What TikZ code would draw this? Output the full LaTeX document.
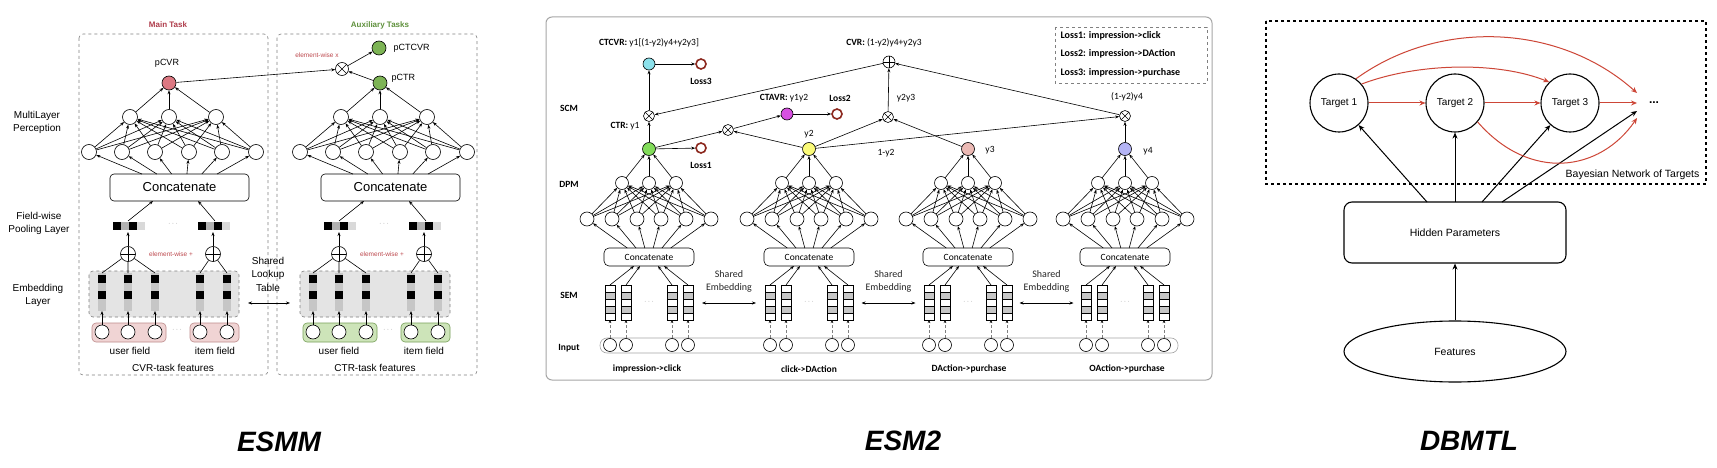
\documentclass[tikz,border=0pt]{standalone}
\usepackage{fontspec}
\setmainfont{Liberation Sans}
\newfontfamily\esmf{Carlito}
\usetikzlibrary{arrows.meta,shapes.geometric,calc}
\definecolor{redlab}{RGB}{190,75,80}
\definecolor{maint}{RGB}{175,60,75}
\definecolor{auxt}{RGB}{95,145,60}
\definecolor{pinkn}{RGB}{220,120,130}
\definecolor{greenn}{RGB}{125,180,85}
\definecolor{pinkbox}{RGB}{240,212,212}
\definecolor{pinkbd}{RGB}{190,140,140}
\definecolor{greenbox}{RGB}{205,228,185}
\definecolor{greenbd}{RGB}{120,160,90}
\definecolor{embgray}{RGB}{228,228,228}
\definecolor{cyann}{RGB}{140,225,235}
\definecolor{limen}{RGB}{130,220,90}
\definecolor{yelln}{RGB}{250,250,120}
\definecolor{rosen}{RGB}{235,185,180}
\definecolor{lavn}{RGB}{180,180,245}
\definecolor{magn}{RGB}{215,80,225}
\definecolor{lossc}{RGB}{140,40,30}
\definecolor{dbred}{RGB}{205,70,55}
\tikzset{
 neu/.style={circle,draw,fill=white,inner sep=0pt,minimum size=#1},
 ox/.style={circle,draw,fill=white,inner sep=0pt,minimum size=#1,path picture={\draw (path picture bounding box.north west)--(path picture bounding box.south east) (path picture bounding box.north east)--(path picture bounding box.south west);}},
 op/.style={circle,draw,fill=white,inner sep=0pt,minimum size=#1,path picture={\draw (path picture bounding box.north)--(path picture bounding box.south) (path picture bounding box.west)--(path picture bounding box.east);}},
 ar/.style={-{Stealth[length=4pt,width=3pt]}},
 loss/.style={circle,draw=lossc,fill=white,line width=1.6pt,minimum size=10pt,inner sep=0pt},
 sm/.style={font=\fontsize{#1}{#1}\selectfont},
 es/.style={font=\esmf\fontsize{#1}{#1}\selectfont},
 dba/.style={line width=1pt,-{Stealth[length=6pt,width=5pt]}},
 dbr/.style={dba,draw=dbred,-{Stealth[length=6pt,width=5pt,dbred]}},
}
\begin{document}
\begin{tikzpicture}[x=1pt,y=-1pt,line width=0.6pt]
\useasboundingbox (0,0) rectangle (1717,468);
\fill[white] (0,0) rectangle (1717,468);
%================ ESMM
\draw[dashed,gray,rounded corners=4] (79,34) rectangle (268,375);
\draw[dashed,gray,rounded corners=4] (277,34) rectangle (477,375);
\foreach \t/\dx/\fc/\bc/\oc in {L/0/pinkbox/pinkbd/pinkn, R/211/greenbox/greenbd/greenn}{
\begin{scope}[xshift=\dx pt]
 \draw[fill=\fc,draw=\bc,rounded corners=4] (92,323) rectangle (166,342);
 \draw[fill=\fc,draw=\bc,rounded corners=4] (190,323) rectangle (239,342);
 \node[sm=7,gray] at (177,330) {$\cdots$};
 \draw[dashed,gray,fill=embgray,rounded corners=4] (89,271) rectangle (239,317);
 \foreach \k/\cx in {1/102,2/128,3/155,4/200,5/227}{
   \fill[gray!45] (\cx-4,273) rectangle (\cx+4,311);
   \fill (\cx-4,275) rectangle (\cx+4,283);
   \fill (\cx-4,291) rectangle (\cx+4,299);
   \coordinate (e\t\k) at (\cx,273);
   \coordinate (eb\t\k) at (\cx,311);
   \node[neu=14pt] (i\t\k) at (\cx,332) {};
   \draw[ar] (i\t\k) -- (eb\t\k);
 }
 \node[op=15pt] (p\t1) at (128,254) {};
 \node[op=15pt] (p\t2) at (213,254) {};
 \draw (e\t1)--(p\t1) (e\t2)--(p\t1) (e\t3)--(p\t1) (e\t4)--(p\t2) (e\t5)--(p\t2);
 \foreach \gx in {113,198}{
   \fill (\gx,222) rectangle ++(8,8);
   \fill[gray!60] (\gx+8,222) rectangle ++(8,8);
   \fill (\gx+16,222) rectangle ++(8,8);
   \fill[gray!30] (\gx+24,222) rectangle ++(8,8);
 }
 \node[sm=7,gray] at (173,224) {$\cdots$};
 \coordinate (pb\t1) at (128,232); \coordinate (pb\t2) at (213,232);
 \draw[ar] (p\t1) -- (pb\t1); \draw[ar] (p\t2) -- (pb\t2);
 \node[draw,rounded corners=4,minimum width=139pt,minimum height=27pt,sm=13] (c\t) at (179.5,187.5) {Concatenate};
 \coordinate (pt\t1) at (128,221); \coordinate (pt\t2) at (215,221);
 \coordinate (cb\t1) at (153,201); \coordinate (cb\t2) at (198,201);
 \draw[ar] (pt\t1) -- (cb\t1); \draw[ar] (pt\t2) -- (cb\t2);
 \foreach \hx [count=\k] in {89,122,155,189,222,256}{
   \node[neu=15pt] (h\t\k) at (\hx,152) {};
   \coordinate (cs\t\k) at ({179.5+(\hx-172.5)*0.45},174);
   \draw[ar] (cs\t\k) -- (h\t\k);
 }
 \foreach \hx [count=\k] in {130,169,216}{
   \node[neu=15pt] (g\t\k) at (\hx,117) {};
 }
 \foreach \a in {1,...,6}{\foreach \b in {1,2,3}{\draw[ar] (h\t\a) -- (g\t\b);}}
 \node[neu=14pt,fill=\oc] (o\t) at (169,83) {};
 \foreach \b in {1,2,3}{\draw[ar] (g\t\b) -- (o\t);}
 \node[text=redlab,sm=6.5] at (171,254) {element-wise +};
\end{scope}
}
\node[sm=10] at (130,351) {user field};
\node[sm=10] at (215,351) {item field};
\node[sm=10] at (339,351) {user field};
\node[sm=10] at (424,351) {item field};
\node[sm=10] at (173,368) {CVR-task features};
\node[sm=10] at (375,368) {CTR-task features};
\node[sm=8,font=\bfseries\fontsize{8}{8}\selectfont,text=maint] at (168,25) {Main Task};
\node[font=\bfseries\fontsize{8}{8}\selectfont,text=auxt] at (380,25) {Auxiliary Tasks};
\node[sm=9] at (167,63) {pCVR};
\node[sm=9,anchor=west] at (388,78) {pCTR};
\node[sm=9,anchor=west] at (390,48) {pCTCVR};
\node[text=redlab,sm=6.5] at (317,55) {element-wise x};
\node[ox=13pt] (mx) at (342,69) {};
\node[neu=14pt,fill=greenn] (pctcvr) at (379,48) {};
\draw[ar] (oL) -- (mx); \draw[ar] (oR) -- (mx); \draw[ar] (mx) -- (pctcvr);
\node[sm=10,align=center,font=\fontsize{10}{13}\selectfont] at (37,122) {MultiLayer\\Perception};
\node[align=center,font=\fontsize{10}{13}\selectfont] at (39,223) {Field-wise\\Pooling Layer};
\node[align=center,font=\fontsize{10}{13}\selectfont] at (38,295) {Embedding\\Layer};
\node[align=center,font=\fontsize{10}{13.5}\selectfont] at (268,274) {Shared\\Lookup\\Table};
\coordinate (sl1) at (248,303); \coordinate (sl2) at (290,303);
\draw[{Stealth[length=4pt,width=3pt]}-{Stealth[length=4pt,width=3pt]}] (sl1) -- (sl2);
%================ ESM2
\draw[gray!70,line width=1pt,rounded corners=6] (546,17) rectangle (1212,380);
\draw[gray!70,rounded corners=7] (600,338) rectangle (1178,353);
\foreach \c/\i/\col in {649/1/limen,809/2/yelln,968/3/rosen,1125/4/lavn}{
 \node[neu=13pt,fill=\col] (y\i) at (\c,149) {};
 \foreach \o [count=\k] in {-27,0,27}{\node[neu=13pt] (u\i-\k) at (\c+\o,183) {};}
 \foreach \o [count=\k] in {-62,-37,-12,12,37,62}{
   \node[neu=14pt] (l\i-\k) at (\c+\o,219) {};
   \coordinate (ks\i-\k) at ({\c+\o*0.35},248);
 }
 \node[draw,rounded corners=5,minimum width=90pt,minimum height=18pt,es=9.5] (k\i) at (\c,257) {Concatenate};
 \foreach \k in {1,...,6}{\draw[ar] (ks\i-\k) -- (l\i-\k);}
 \foreach \a in {1,...,6}{\foreach \b in {1,2,3}{\draw[ar] (l\i-\a) -- (u\i-\b);}}
 \foreach \b in {1,2,3}{\draw[ar] (u\i-\b) -- (y\i);}
 \foreach \o/\tx [count=\k] in {-39/-15,-23/-9,23/9,39/15}{
   \draw[fill=white] (\c+\o-5,285) rectangle (\c+\o+5,320);
   \fill[gray!45] (\c+\o-5,292) rectangle (\c+\o+5,299);
   \fill[gray!45] (\c+\o-5,306) rectangle (\c+\o+5,313);
   \draw (\c+\o-5,285) rectangle (\c+\o+5,320);
   \foreach \yy in {292,299,306,313}{\draw (\c+\o-5,\yy) -- (\c+\o+5,\yy);}
   \coordinate (bt\i-\k) at (\c+\o,285);
   \coordinate (bb\i-\k) at (\c+\o,320);
   \coordinate (kt\i-\k) at (\c+\tx,266);
   \draw[ar] (bt\i-\k) -- (kt\i-\k);
   \node[neu=13pt] (n\i-\k) at (\c+\o,345) {};
   \draw[gray,densely dashed,-{Stealth[black,length=3pt,width=2.5pt]}] (n\i-\k) -- (bb\i-\k);
 }
 \node[gray,sm=7] at (\c,302) {$\cdots$};
}
\foreach \m [count=\j] in {729,888.5,1046.5}{
 \node[es=10,align=center,font=\esmf\fontsize{10}{13}\selectfont,gray!30!black] at (\m,281) {Shared\\Embedding};
 \coordinate (sa\j) at (\m-27,303); \coordinate (sb\j) at (\m+27,303);
 \draw[{Stealth[length=4pt,width=3pt]}-{Stealth[length=4pt,width=3pt]}] (sa\j) -- (sb\j);
}
\node[ox=11pt] (x1) at (649,116) {};
\node[neu=12pt,fill=cyann] (cy) at (649,64) {};
\node[loss] (l3) at (701,64) {};
\node[op=12pt] (pl) at (889,62) {};
\node[ox=11pt] (x2) at (728,130) {};
\node[neu=12pt,fill=magn] (mg) at (787,114) {};
\node[loss] (l2) at (837,114) {};
\node[loss] (l1) at (701,148) {};
\node[ox=11pt] (x3) at (888,117) {};
\node[ox=11pt] (x4) at (1125,116) {};
\foreach \a/\b in {y1/x1,x1/cy,cy/l3,y1/l1,pl/x1,y1/x2,y2/x2,x2/mg,mg/l2,y2/x3,y3/x3,x3/pl,y2/x4,y4/x4,x4/pl}{\draw[ar] (\a) -- (\b);}
\node[es=9.5] at (649,43) {\textbf{CTCVR:} y1[(1-y2)y4+y2y3]};
\node[es=9.5] at (884,43) {\textbf{CVR:} (1-y2)y4+y2y3};
\node[es=9.5] at (784,98) {\textbf{CTAVR:} y1y2};
\node[es=9.5] at (840,98) {\textbf{Loss2}};
\node[es=9.5] at (701,81) {\textbf{Loss3}};
\node[es=9.5] at (701,165) {\textbf{Loss1}};
\node[es=9.5] at (625,126) {\textbf{CTR:} y1};
\node[es=9.5] at (809,134) {y2};
\node[es=9.5] at (906,98) {y2y3};
\node[es=9.5] at (886,153) {1-y2};
\node[es=9.5] at (990,150) {y3};
\node[es=9.5] at (1148,151) {y4};
\node[es=9.5] at (1127,97) {(1-y2)y4};
\foreach \l/\yy in {SCM/108,DPM/184,SEM/295,Input/348}{\node[es=9.5] at (569,\yy) {\textbf{\l}};}
\foreach \l/\xx in {impression->click/647,click->DAction/809,DAction->purchase/969,OAction->purchase/1127}{\node[es=9.5] at (\xx,369) {\textbf{\l}};}
\draw[dashed,gray] (1055,27) rectangle (1207,83);
\node[es=10,anchor=west] at (1057,36) {\textbf{Loss1: impression->click}};
\node[es=10,anchor=west] at (1057,54) {\textbf{Loss2: impression->DAction}};
\node[es=10,anchor=west] at (1057,73) {\textbf{Loss3: impression->purchase}};
%================ DBMTL
\draw[line width=1.2pt,dash pattern=on 3pt off 3pt] (1266,21) rectangle (1706,184);
\node[circle,draw,line width=1.1pt,minimum size=58pt,inner sep=0pt,sm=10] (t1) at (1339,103) {Target 1};
\node[circle,draw,line width=1.1pt,minimum size=58pt,inner sep=0pt,sm=10] (t2) at (1455,103) {Target 2};
\node[circle,draw,line width=1.1pt,minimum size=58pt,inner sep=0pt,sm=10] (t3) at (1570,103) {Target 3};
\node[font=\bfseries\fontsize{12}{12}\selectfont] (dt) at (1654,103) {...};
\node[draw,rounded corners=8,line width=1.1pt,minimum width=222pt,minimum height=61pt,sm=10.5] (hp) at (1455,232.5) {Hidden Parameters};
\node[ellipse,draw,line width=1.1pt,minimum width=222pt,minimum height=61pt,sm=10.5] (ft) at (1455,351.5) {Features};
\node[anchor=east,sm=10.5] at (1703,175) {Bayesian Network of Targets};
\draw[dba] (ft) -- (hp);
\coordinate (h1) at (1427,202); \coordinate (h2) at (1455,202);
\coordinate (h3) at (1482,202); \coordinate (h4) at (1502,202);
\coordinate (d0) at (1637,103); \coordinate (d1) at (1637,93);
\coordinate (d2) at (1637,118); \coordinate (d3) at (1637,111);
\draw[dba] (h1) -- (t1); \draw[dba] (h2) -- (t2); \draw[dba] (h3) -- (t3); \draw[dba] (h4) -- (d3);
\draw[dbr] (t1) -- (t2); \draw[dbr] (t2) -- (t3); \draw[dbr] (t3) -- (d0);
\draw[dbr] (t1.40) .. controls (1420,62) and (1500,62) .. (t3.135);
\draw[dbr] (t1.55) .. controls (1440,18) and (1560,24) .. (d1);
\draw[dbr] (t2.-40) .. controls (1530,182) and (1600,172) .. (d2);
%================ titles
\node[font=\fontsize{28}{30}\selectfont\bfseries\itshape] at (279,442) {ESMM};
\node[font=\fontsize{28}{30}\selectfont\bfseries\itshape] at (903,441) {ESM2};
\node[font=\fontsize{28}{30}\selectfont\bfseries\itshape] at (1469,441) {DBMTL};
\end{tikzpicture}
\end{document}
